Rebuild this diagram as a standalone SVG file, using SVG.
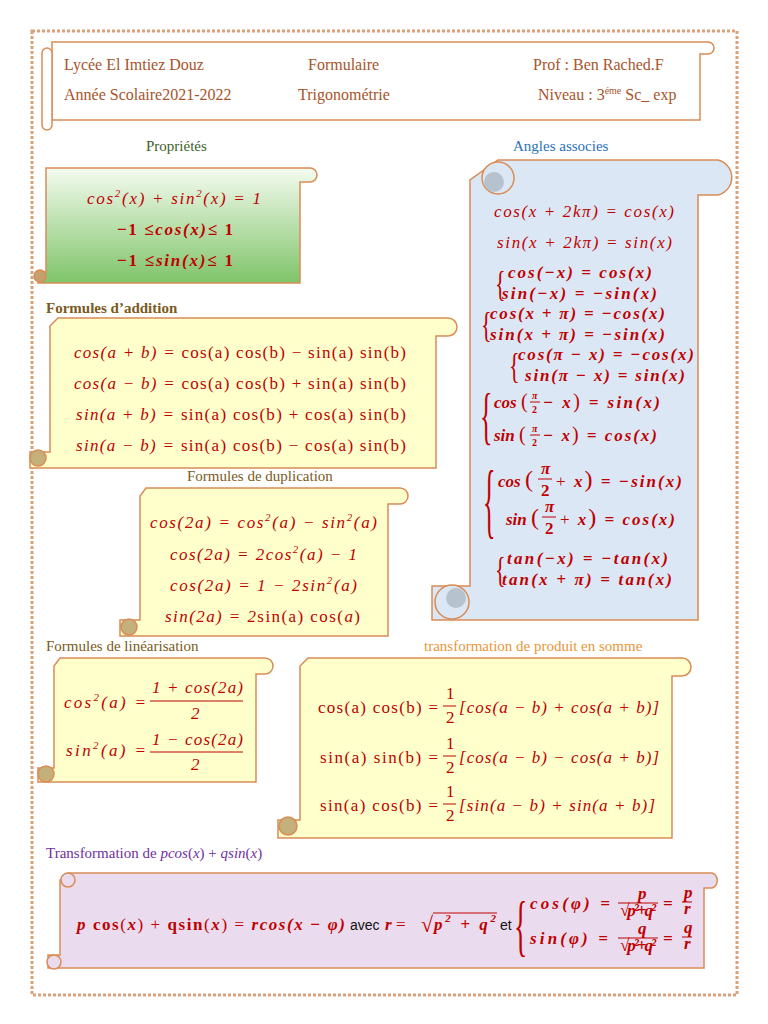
<svg xmlns="http://www.w3.org/2000/svg" width="768" height="1024" viewBox="0 0 768 1024">
<defs>
<linearGradient id="g" x1="0" y1="0" x2="0" y2="1"><stop offset="0" stop-color="#f4fbef"/><stop offset="1" stop-color="#7fc46a"/></linearGradient>
</defs>
<style>
.sc{stroke:#d98c55;stroke-width:1.5}
.m{font-family:"Liberation Serif",serif;font-style:italic;fill:#c00000;font-size:17px}
.b{font-weight:bold}
.u{font-style:normal}
.br{font-family:"Liberation Serif",serif;fill:#c00000;font-weight:normal;font-style:normal}
.h{font-family:"Liberation Serif",serif;fill:#a8542a;font-size:16px}
.t{font-family:"Liberation Serif",serif;font-size:15px}
</style>
<rect width="768" height="1024" fill="#fff"/>
<rect x="32" y="31" width="705" height="964" fill="none" stroke="#dba27a" stroke-width="3" stroke-dasharray="3 2"/>

<g id="header">
<path class="sc" fill="#fff" d="M52 42 H708 a6 6 0 0 1 0 12 H700 V120 H52 Z"/>
<rect class="sc" fill="#fff" x="42" y="48" width="10" height="82" rx="5"/>
<text class="h" x="64" y="70">Lycée El Imtiez Douz</text>
<text class="h" x="308" y="70">Formulaire</text>
<text class="h" x="533" y="70">Prof : Ben Rached.F</text>
<text class="h" x="64" y="100">Année Scolaire2021-2022</text>
<text class="h" x="298" y="100">Trigonométrie</text>
<text class="h" x="538" y="100">Niveau : 3<tspan font-size="10" dy="-6">éme</tspan><tspan dy="6"> Sc_ exp</tspan></text>
</g>

<g id="proprietes">
<text class="t" x="146" y="151" fill="#3d5f2a">Propriétés</text>
<path class="sc" fill="url(#g)" d="M46 168 H310 a7 7 0 0 1 0 14 H300 V283 H38 V272 H46 Z"/>
<circle class="sc" cx="40" cy="276" r="6" fill="#c4a06a"/>
<text class="m" x="87" y="204" textLength="174">cos<tspan font-size="11" dy="-7">2</tspan><tspan dy="7">(x) + sin</tspan><tspan font-size="11" dy="-7">2</tspan><tspan dy="7">(x) = 1</tspan></text>
<text class="m b" x="117" y="235" textLength="116"><tspan class="u">−1</tspan> ≤cos(x)≤ <tspan class="u">1</tspan></text>
<text class="m b" x="117" y="266" textLength="116"><tspan class="u">−1</tspan> ≤sin(x)≤ <tspan class="u">1</tspan></text>
</g>

<g id="addition">
<text class="t b" x="46" y="313" fill="#7a5a20">Formules d’addition</text>
<path class="sc" fill="#ffffcc" d="M58 318 H448 a9 9 0 0 1 0 18 H436 V468 H30 V452 H50 V326 Z"/>
<circle class="sc" cx="38" cy="458" r="8" fill="#c4b07a"/>
<text class="m" x="74" y="358" textLength="332">cos(a + b) = <tspan class="u">cos(a) cos(b) − sin(a) sin(b)</tspan></text>
<text class="m" x="74" y="389" textLength="332">cos(a − b) = <tspan class="u">cos(a) cos(b) + sin(a) sin(b)</tspan></text>
<text class="m" x="76" y="420" textLength="330">sin(a + b) = <tspan class="u">sin(a) cos(b) + cos(a) sin(b)</tspan></text>
<text class="m" x="76" y="451" textLength="330">sin(a − b) = <tspan class="u">sin(a) cos(b) − cos(a) sin(b)</tspan></text>
</g>

<g id="duplication">
<text class="t" x="187" y="481" fill="#7a5a20">Formules de duplication</text>
<path class="sc" fill="#ffffcc" d="M146 488 H400 a8 8 0 0 1 0 16 H388 V636 H120 V620 H140 V496 Z"/>
<circle class="sc" cx="129" cy="627" r="8" fill="#c4b07a"/>
<text class="m" x="150" y="528" textLength="227">cos(2a) = cos<tspan font-size="11" dy="-7">2</tspan><tspan dy="7">(a) − sin</tspan><tspan font-size="11" dy="-7">2</tspan><tspan dy="7">(a)</tspan></text>
<text class="m" x="170" y="560" textLength="187">cos(2a) = 2cos<tspan font-size="11" dy="-7">2</tspan><tspan dy="7">(a) − 1</tspan></text>
<text class="m" x="170" y="591" textLength="187">cos(2a) = 1 − 2sin<tspan font-size="11" dy="-7">2</tspan><tspan dy="7">(a)</tspan></text>
<text class="m" x="165" y="622" textLength="195">sin(2a) = 2<tspan class="u">sin(a) cos(</tspan>a<tspan class="u">)</tspan></text>
</g>

<g id="linearisation">
<text class="t" x="46" y="651" fill="#7a5a20">Formules de linéarisation</text>
<path class="sc" fill="#ffffcc" d="M60 658 H265 a8 8 0 0 1 0 16 H256 V782 H38 V768 H54 V666 Z"/>
<circle class="sc" cx="46" cy="774" r="8" fill="#c4b07a"/>
<text class="m" x="64" y="708" textLength="82">cos<tspan font-size="11" dy="-7">2</tspan><tspan dy="7">(a) =</tspan></text>
<text class="m" x="152" y="693" textLength="91">1 + cos(2a)</text>
<line x1="150" y1="701" x2="243" y2="701" stroke="#c00000"/>
<text class="m" x="191" y="719">2</text>
<text class="m" x="66" y="756" textLength="80">sin<tspan font-size="11" dy="-7">2</tspan><tspan dy="7">(a) =</tspan></text>
<text class="m" x="152" y="745" textLength="91">1 − cos(2a)</text>
<line x1="150" y1="752" x2="243" y2="752" stroke="#c00000"/>
<text class="m" x="191" y="770">2</text>
</g>

<g id="produit">
<text class="t" x="424" y="651" fill="#e8963a">transformation de produit en somme</text>
<path class="sc" fill="#ffffcc" d="M308 658 H682 a9 9 0 0 1 0 18 H672 V838 H278 V820 H300 V666 Z"/>
<circle class="sc" cx="288" cy="826" r="9" fill="#c4b07a"/>
<text class="m u" x="318" y="713" textLength="120">cos(a) cos(b) =</text>
<text class="m u" x="446" y="699">1</text><line x1="443" y1="706" x2="456" y2="706" stroke="#c00000"/><text class="m u" x="446" y="723">2</text>
<text class="m" x="459" y="713" textLength="200">[cos(a − b) + cos(a + b)]</text>
<text class="m u" x="320" y="763" textLength="118">sin(a) sin(b) =</text>
<text class="m u" x="446" y="749">1</text><line x1="443" y1="756" x2="456" y2="756" stroke="#c00000"/><text class="m u" x="446" y="773">2</text>
<text class="m" x="459" y="763" textLength="200">[cos(a − b) − cos(a + b)]</text>
<text class="m u" x="320" y="811" textLength="118">sin(a) cos(b) =</text>
<text class="m u" x="446" y="797">1</text><line x1="443" y1="804" x2="456" y2="804" stroke="#c00000"/><text class="m u" x="446" y="821">2</text>
<text class="m" x="459" y="811" textLength="196">[sin(a − b) + sin(a + b)]</text>
</g>

<g id="angles">
<text class="t" x="513" y="151" fill="#2a72b8">Angles associes</text>
<path class="sc" fill="#dbe7f4" d="M498 160 H718 a18 18 0 0 1 0 35 H698 V620 H432 V586 H470 V180 Z"/>
<circle class="sc" cx="498" cy="178" r="16" fill="#dbe7f4"/>
<circle cx="494" cy="182" r="10" fill="#b6c2ce"/>
<circle class="sc" cx="452" cy="602" r="17" fill="#dbe7f4"/>
<circle cx="456" cy="598" r="10" fill="#b6c2ce"/>
<g class="m">
<text x="494" y="217" textLength="180">cos(x + 2kπ) = cos(x)</text>
<text x="497" y="248" textLength="175">sin(x + 2kπ) = sin(x)</text>
<text class="br" transform="translate(495,296) scale(1,1.6)" font-size="22">{</text>
<text class="b" x="508" y="278" textLength="144">cos(−x) = cos(x)</text>
<text class="b" x="502" y="299" textLength="155">sin(−x) = −sin(x)</text>
<text class="br" transform="translate(481,337) scale(1,1.6)" font-size="22">{</text>
<text class="b" x="490" y="319" textLength="175">cos(x + π) = −cos(x)</text>
<text class="b" x="490" y="340" textLength="175">sin(x + π) = −sin(x)</text>
<text class="br" transform="translate(509,378) scale(1,1.6)" font-size="22">{</text>
<text class="b" x="518" y="360" textLength="176">cos(π − x) = −cos(x)</text>
<text class="b" x="525" y="381" textLength="160">sin(π − x) = sin(x)</text>
<text class="br" transform="translate(480,437) scale(1,2.4)" font-size="26">{</text>
<text class="b" x="494" y="408">cos <tspan class="u" font-weight="normal" font-size="20">(</tspan></text>
<text class="b" x="532" y="399" font-size="10">π</text><line x1="530" y1="402" x2="540" y2="402" stroke="#c00000"/><text class="b u" x="532" y="413" font-size="10">2</text>
<text class="b" x="543" y="408" textLength="117">− x<tspan class="u" font-weight="normal" font-size="20">)</tspan> = sin(x)</text>
<text class="b" x="494" y="441">sin <tspan class="u" font-weight="normal" font-size="20">(</tspan></text>
<text class="b" x="532" y="432" font-size="10">π</text><line x1="530" y1="435" x2="540" y2="435" stroke="#c00000"/><text class="b u" x="532" y="446" font-size="10">2</text>
<text class="b" x="543" y="441" textLength="114">− x<tspan class="u" font-weight="normal" font-size="20">)</tspan> = cos(x)</text>
<text class="br" transform="translate(483,528) scale(1,3.2)" font-size="26">{</text>
<text class="b" x="498" y="487">cos <tspan class="u" font-weight="normal" font-size="24">(</tspan></text>
<text class="b" x="541" y="474">π</text><line x1="538" y1="479" x2="552" y2="479" stroke="#c00000"/><text class="b u" x="541" y="496">2</text>
<text class="b" x="556" y="487" textLength="126"><tspan class="u" font-weight="normal">+</tspan> x<tspan class="u" font-weight="normal" font-size="24">)</tspan> = −sin(x)</text>
<text class="b" x="506" y="525">sin <tspan class="u" font-weight="normal" font-size="24">(</tspan></text>
<text class="b" x="545" y="512">π</text><line x1="542" y1="517" x2="556" y2="517" stroke="#c00000"/><text class="b u" x="545" y="534">2</text>
<text class="b" x="560" y="525" textLength="115"><tspan class="u" font-weight="normal">+</tspan> x<tspan class="u" font-weight="normal" font-size="24">)</tspan> = cos(x)</text>
<text class="br" transform="translate(495,582) scale(1,1.6)" font-size="22">{</text>
<text class="b" x="507" y="564" textLength="161">tan(−x) = −tan(x)</text>
<text class="b" x="502" y="585" textLength="170">tan(x + π) = tan(x)</text>
</g>
</g>

<g id="pq">
<text class="t" x="46" y="858" font-size="16" fill="#7030a0">Transformation de <tspan font-style="italic">pcos</tspan>(<tspan font-style="italic">x</tspan>) + <tspan font-style="italic">qsin</tspan>(<tspan font-style="italic">x</tspan>)</text>
<path class="sc" fill="#eadcee" d="M68 873 H712 a8 8 0 0 1 0 15 H704 V968 H48 V955 H60 V880 Z"/>
<circle class="sc" cx="68" cy="880" r="7" fill="#eadcee"/>
<circle class="sc" cx="54" cy="962" r="7" fill="#eadcee"/>
<text class="m b" x="77" y="930" font-size="18" textLength="268">p <tspan class="u">cos</tspan><tspan class="u" font-weight="normal">(</tspan>x<tspan class="u" font-weight="normal">)</tspan> <tspan class="u" font-weight="normal">+</tspan> <tspan class="u">qsin</tspan><tspan class="u" font-weight="normal">(</tspan>x<tspan class="u" font-weight="normal">)</tspan> <tspan class="u" font-weight="normal">=</tspan> rcos(x − φ)</text>
<text x="350" y="930" font-family="Liberation Sans,sans-serif" font-size="14" fill="#111">avec</text>
<text class="m b" x="385" y="930" font-size="18">r <tspan class="u" font-weight="normal">=</tspan></text>
<text class="br" x="421" y="932" font-size="22">√</text>
<line x1="433" y1="913" x2="497" y2="913" stroke="#c00000" stroke-width="1.2"/>
<text class="m b" x="434" y="930" font-size="18" textLength="62">p<tspan font-size="11" dy="-8">2</tspan><tspan dy="8"> + q</tspan><tspan font-size="11" dy="-8">2</tspan></text>
<text x="500" y="930" font-family="Liberation Sans,sans-serif" font-size="14" fill="#111">et</text>
<text class="br" transform="translate(514,948) scale(1,2.4)" font-size="28">{</text>
<text class="m b" x="530" y="909" font-size="17" textLength="80">cos(φ) =</text>
<text class="m b" x="638" y="899" font-size="11">p</text><line x1="618" y1="903" x2="658" y2="903" stroke="#c00000"/><text class="m b" x="620" y="916" font-size="9" textLength="36">√p²+q²</text>
<text class="m b" x="663" y="909" font-size="17">=</text>
<text class="m b" x="684" y="898" font-size="11">p</text><line x1="682" y1="902" x2="692" y2="902" stroke="#c00000"/><text class="m b" x="684" y="914" font-size="11">r</text>
<text class="m b" x="530" y="944" font-size="17" textLength="78">sin(φ) =</text>
<text class="m b" x="638" y="934" font-size="11">q</text><line x1="618" y1="938" x2="658" y2="938" stroke="#c00000"/><text class="m b" x="620" y="951" font-size="9" textLength="36">√p²+q²</text>
<text class="m b" x="663" y="944" font-size="17">=</text>
<text class="m b" x="684" y="933" font-size="11">q</text><line x1="682" y1="937" x2="692" y2="937" stroke="#c00000"/><text class="m b" x="684" y="949" font-size="11">r</text>
</g>
</svg>
